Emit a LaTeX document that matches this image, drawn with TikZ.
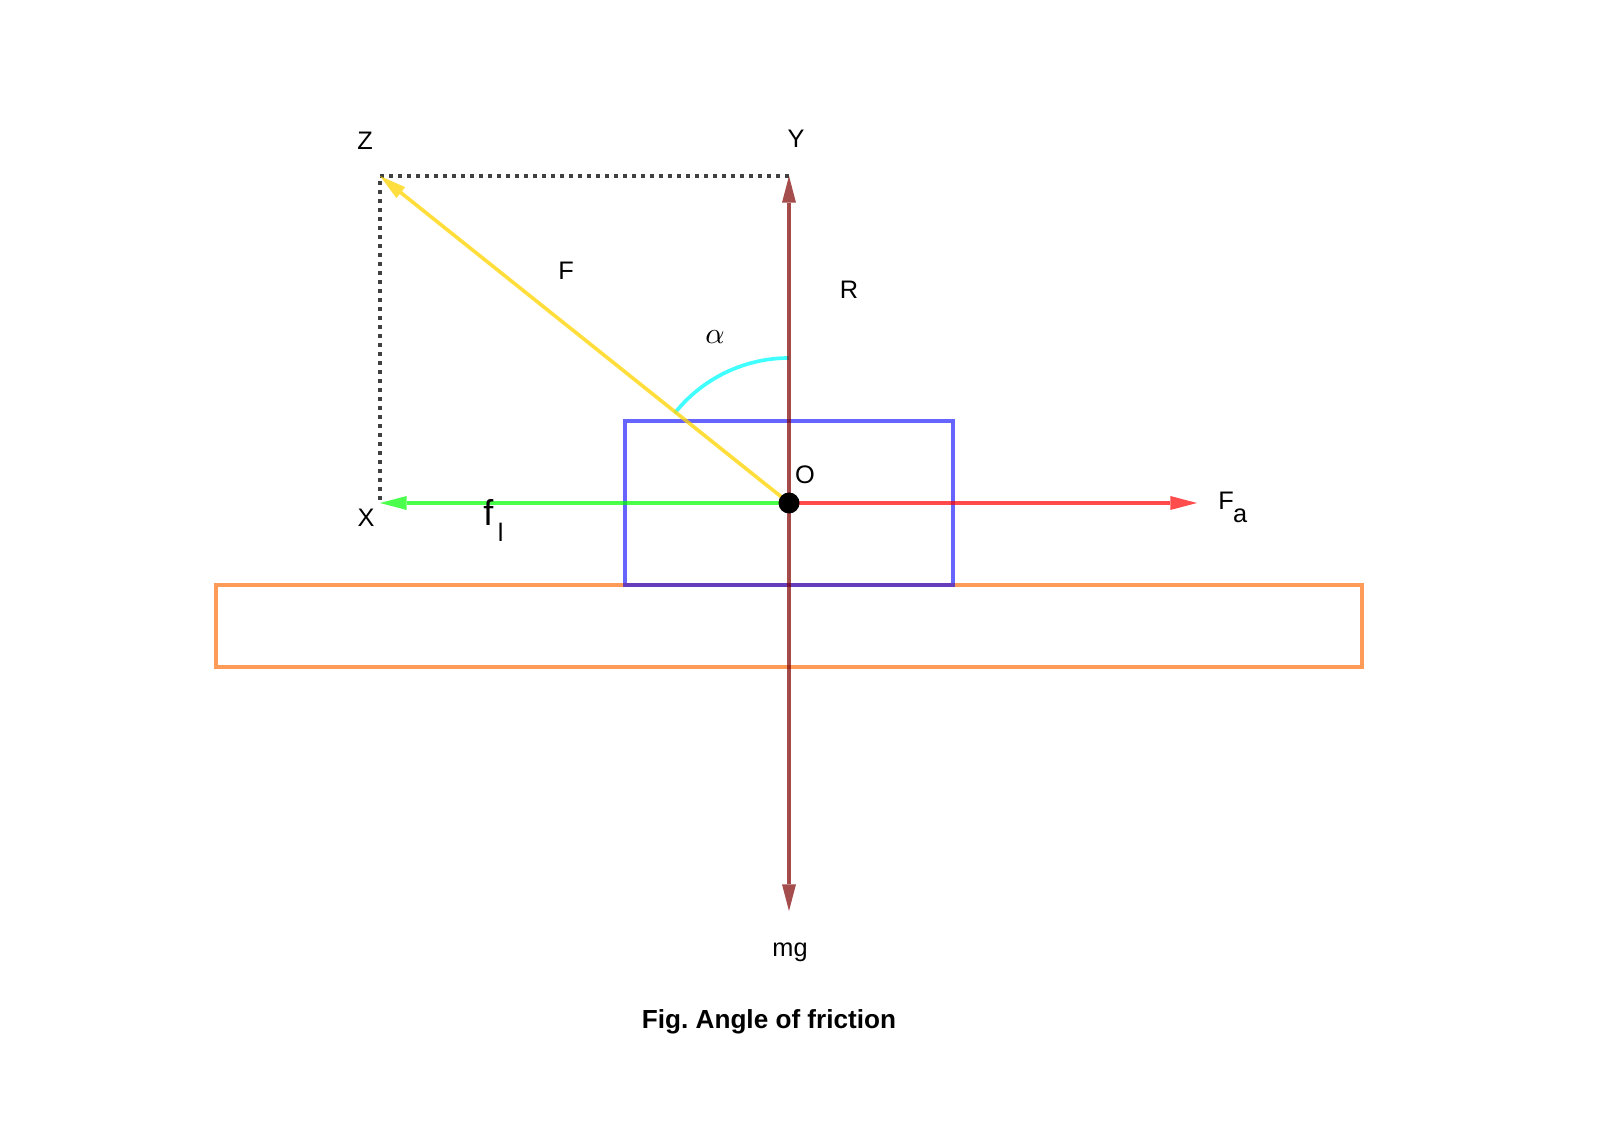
\documentclass[tikz,border=0pt]{standalone}
\usepackage{fontspec}
\setmainfont{Liberation Sans}
\frenchspacing
\usetikzlibrary{arrows.meta}
\definecolor{dotgray}{HTML}{404040}
\definecolor{cBrown}{HTML}{800000}
\definecolor{cYellow}{HTML}{FFD500}
\definecolor{cGreen}{HTML}{00FF00}
\definecolor{cRed}{HTML}{FF0000}
\definecolor{cBlue}{HTML}{0000FF}
\definecolor{cOrange}{HTML}{FF6600}
\definecolor{cCyan}{HTML}{00FFFF}
\tikzset{
  lbl/.style={inner sep=0pt,font=\fontsize{19}{22}\selectfont,text=black},
  force/.style={line width=2.75pt,draw opacity=0.7,fill opacity=0.7,-{Triangle[length=20pt,width=10.5pt,line width=0pt]}},
  frame/.style={draw,line width=2.6pt,draw opacity=0.65,inner sep=0pt,outer sep=0pt,fill=none},
  guide/.style={draw=dotgray,line width=2.75pt,dash pattern=on 2.75pt off 4pt},
}
\begin{document}
\begin{tikzpicture}[x=0.75pt,y=-0.75pt]
\useasboundingbox (0,0) rectangle (1600,1126);
\fill[white] (0,0) rectangle (1600,1126);
\coordinate (O) at (789,503);
\coordinate (Zp) at (380,176);
\coordinate (Yp) at (789,176);
\coordinate (Xp) at (380,503);
\coordinate (Fp) at (1197,503);
\coordinate (Gp) at (789,911);
\coordinate (A) at (789,358);
% plate and block
\node[frame,draw=cOrange,minimum width=859.5pt,minimum height=61.5pt] (plate) at (789,626) {};
\node[frame,draw=cBlue,draw opacity=0.6,minimum width=246pt,minimum height=123pt] (block) at (789,503) {};
% construction lines
\draw[guide] (Yp) -- (Zp) -- (Xp);
% angle arc
\draw[line width=2.75pt,draw=cCyan,draw opacity=0.75] (A) arc[start angle=90,end angle=141.4,radius=109.5pt];
% forces
\draw[force,draw=cBrown,fill=cBrown] (O) -- (Yp);
\draw[force,draw=cBrown,fill=cBrown] (O) -- (Gp);
\draw[force,draw=cYellow,fill=cYellow,draw opacity=0.75,fill opacity=0.75] (O) -- (Zp);
\draw[force,draw=cGreen,fill=cGreen] (O) -- (Xp);
\draw[force,draw=cRed,fill=cRed] (O) -- (Fp);
\node[circle,fill=black,minimum size=15.75pt,inner sep=0pt] (dot) at (O) {};
% labels
\node[lbl] (lZ) at (365,141) {Z};
\node[lbl] (lY) at (796,139) {Y};
\node[lbl] (lX) at (366,518) {X};
\node[lbl] (lO) at (805,475) {O};
\node[lbl] (lF) at (566,271) {F};
\node[lbl] (lR) at (849,290) {R};
\node[inner sep=0pt,scale=2.25] (la) at (715,337) {$\alpha$};
\node[lbl,anchor=base west] (lFa) at (1218,510) {F\kern-0.5pt\raisebox{-9.5pt}{a}};
\node[lbl,anchor=base west] (lfl) at (483,526) {{\fontsize{27}{30}\selectfont f}\kern3.5pt\raisebox{-12pt}{l}};
\node[lbl] (lmg) at (790,952) {mg};
\node[lbl,font=\fontsize{19.6}{23}\selectfont\bfseries] (title) at (769,1022) {Fig. Angle of friction};
\end{tikzpicture}
\end{document}
